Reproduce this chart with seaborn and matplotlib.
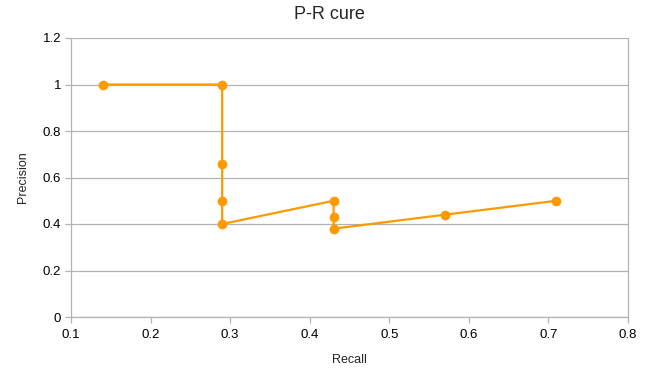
import matplotlib
matplotlib.use("Agg")
import matplotlib.pyplot as plt
import seaborn as sns
import pandas as pd

# P-R points
recall = [0.14, 0.29, 0.29, 0.29, 0.29, 0.43, 0.43, 0.43, 0.57, 0.71]
precision = [1.0, 1.0, 0.66, 0.5, 0.4, 0.5, 0.43, 0.38, 0.44, 0.5]
x_ticks = [0.1, 0.2, 0.3, 0.4, 0.5, 0.6, 0.7, 0.8]
y_ticks = [0, 0.2, 0.4, 0.6, 0.8, 1, 1.2]

df = pd.DataFrame({"Recall": recall, "Precision": precision})

sns.set_style("white")
plt.rcParams["font.family"] = ["Liberation Sans", "DejaVu Sans"]

fig = plt.figure(figsize=(6.59, 3.69), dpi=100)
ax = fig.add_axes([71 / 659, 1 - 317 / 369, (628 - 71) / 659, (317 - 38) / 369])

orange = "#ff9900"
sns.lineplot(data=df, x="Recall", y="Precision", sort=False, estimator=None,
             errorbar=None, ax=ax, color=orange, linewidth=1.6, marker="o",
             markersize=7, markeredgewidth=0, zorder=3)

ax.set_xlim(0.1, 0.8)
ax.set_ylim(0, 1.2)
ax.set_xticks(x_ticks)
ax.set_xticklabels([str(t) for t in x_ticks])
ax.set_yticks(y_ticks)
ax.set_yticklabels([str(t) for t in y_ticks])

ax.grid(axis="y", color="#b3b3b3", linewidth=0.9)
ax.grid(axis="x", visible=False)
for side in ["left", "right", "bottom"]:
    ax.spines[side].set_visible(True)
    ax.spines[side].set_color("#b3b3b3")
    ax.spines[side].set_linewidth(0.9)
ax.spines["top"].set_visible(False)

ax.tick_params(axis="both", length=4, width=0.9, color="#b3b3b3",
               labelsize=9.5, labelcolor="black", direction="out")
ax.tick_params(axis="x", pad=5)
ax.tick_params(axis="y", pad=3)
ax.yaxis.set_ticks_position("left")
ax.xaxis.set_ticks_position("bottom")

ax.set_xlabel("Recall", fontsize=9, labelpad=9)
ax.set_ylabel("Precision", fontsize=9, labelpad=10)
fig.suptitle("P-R cure", fontsize=13, y=0.985)

fig.savefig("out.png", dpi=100)
